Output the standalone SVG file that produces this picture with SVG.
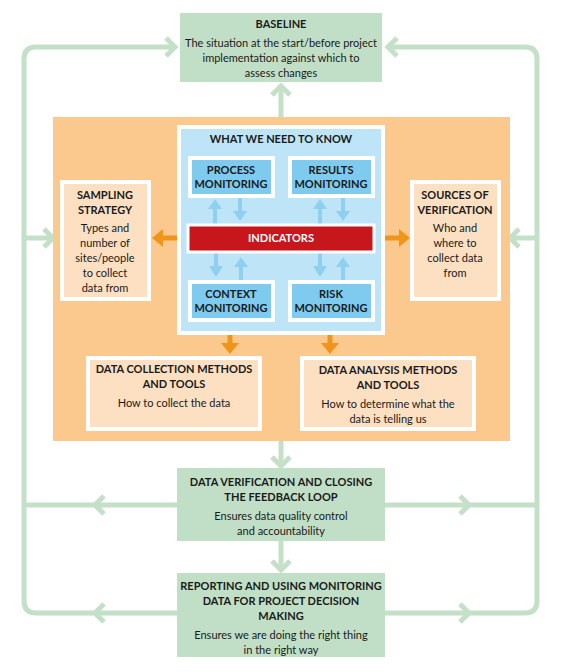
<svg xmlns="http://www.w3.org/2000/svg" width="563" height="672" viewBox="0 0 563 672">
<style>
.loop{fill:none;stroke:#c4e0c8;stroke-width:5;stroke-linejoin:round}
.chev{fill:none;stroke:#c4e0c8;stroke-width:5;stroke-linecap:butt;stroke-linejoin:miter}
.gbox{fill:#c1dfc6}
.t{font-family:Lato,"Liberation Sans",sans-serif;font-size:11px;fill:#1a1a1a;text-anchor:middle}
.b{font-weight:bold}
.w{fill:#ffffff}
.pbox{fill:#fde0c2;stroke:#ffffff;stroke-width:4}
.bbox{fill:#7ecbef;stroke:#ffffff;stroke-width:4}
.barrow{fill:#8fd0f1}
.oarrow{fill:#f0951c}
</style>
<rect x="0" y="0" width="563" height="672" fill="#ffffff"/>
<g id="connectors">
  <!-- left loop -->
  <path class="loop" d="M177,613 H36 Q24,613 24,601 V59 Q24,47 36,47 H174"/>
  <path class="loop" d="M177,505 H24"/>
  <path class="loop" d="M24,238 H50"/>
  <!-- right loop -->
  <path class="loop" d="M385,613 H525 Q537,613 537,601 V59 Q537,47 525,47 H389"/>
  <path class="loop" d="M385,505 H537"/>
  <path class="loop" d="M537,238 H512"/>
  <!-- chevrons on loop -->
  <path class="chev" d="M166,38 L175,47 L166,56"/>
  <path class="chev" d="M397,38 L388,47 L397,56"/>
  <path class="chev" d="M44,229 L53,238 L44,247"/>
  <path class="chev" d="M519,229 L510,238 L519,247"/>
  <path class="chev" d="M104,496 L95,505 L104,514"/>
  <path class="chev" d="M104,604 L95,613 L104,622"/>
  <path class="chev" d="M460,496 L469,505 L460,514"/>
  <path class="chev" d="M460,604 L469,613 L460,622"/>
  <!-- vertical green arrows -->
  <path class="loop" d="M281,117 V86"/>
  <path class="chev" d="M272,95 L281,86 L290,95"/>
  <path class="loop" d="M281,441 V466"/>
  <path class="chev" d="M272,457 L281,466 L290,457"/>
  <path class="loop" d="M281,541 V570"/>
  <path class="chev" d="M272,561 L281,570 L290,561"/>
</g>
<g id="baseline">
  <rect class="gbox" x="180" y="13" width="202" height="69"/>
  <text class="t b" x="281" y="28">BASELINE</text>
  <text class="t" x="281" y="47">The situation at the start/before project</text>
  <text class="t" x="281" y="62">implementation against which to</text>
  <text class="t" x="281" y="77">assess changes</text>
</g>
<g id="orange-area">
  <rect x="53" y="117" width="457" height="324" fill="#fbc98d"/>
</g>
<g id="what-we-need">
  <rect x="179" y="127" width="204" height="206" fill="#bee4f7" stroke="#ffffff" stroke-width="4"/>
  <text class="t b" x="281" y="143">WHAT WE NEED TO KNOW</text>
</g>
<g id="orange-arrows">
  <rect class="oarrow" x="161" y="235.5" width="16" height="5"/>
  <path class="oarrow" d="M152,238 L163,229 L163,247 Z"/>
  <rect class="oarrow" x="385" y="235.5" width="15" height="5"/>
  <path class="oarrow" d="M410,238 L399,229 L399,247 Z"/>
  <rect class="oarrow" x="227.5" y="335" width="5" height="10"/>
  <path class="oarrow" d="M230,354 L221,343 L239,343 Z"/>
  <rect class="oarrow" x="327.5" y="335" width="5" height="10"/>
  <path class="oarrow" d="M330,354 L321,343 L339,343 Z"/>
</g>
<g id="blue-arrows">
  <!-- top left pair -->
  <rect class="barrow" x="213" y="207" width="4" height="17"/>
  <path class="barrow" d="M215,199 L208,209 L222,209 Z"/>
  <rect class="barrow" x="238" y="197" width="4" height="16"/>
  <path class="barrow" d="M240,221 L233,211 L247,211 Z"/>
  <!-- top right pair -->
  <rect class="barrow" x="318" y="207" width="4" height="17"/>
  <path class="barrow" d="M320,199 L313,209 L327,209 Z"/>
  <rect class="barrow" x="341" y="197" width="4" height="16"/>
  <path class="barrow" d="M343,221 L336,211 L350,211 Z"/>
  <!-- bottom left pair -->
  <rect class="barrow" x="214" y="252" width="4" height="16"/>
  <path class="barrow" d="M216,277 L209,266 L223,266 Z"/>
  <rect class="barrow" x="239" y="265" width="4" height="16"/>
  <path class="barrow" d="M241,257 L234,267 L248,267 Z"/>
  <!-- bottom right pair -->
  <rect class="barrow" x="318" y="252" width="4" height="16"/>
  <path class="barrow" d="M320,277 L313,266 L327,266 Z"/>
  <rect class="barrow" x="341" y="265" width="4" height="16"/>
  <path class="barrow" d="M343,257 L336,267 L350,267 Z"/>
</g>
<g id="process">
  <rect class="bbox" x="190" y="158" width="83" height="38"/>
  <text class="t b" x="231" y="174">PROCESS</text>
  <text class="t b" x="231" y="188">MONITORING</text>
</g>
<g id="results">
  <rect class="bbox" x="290" y="158" width="83" height="38"/>
  <text class="t b" x="331" y="174">RESULTS</text>
  <text class="t b" x="331" y="188">MONITORING</text>
</g>
<g id="indicators">
  <rect x="188" y="225" width="186" height="27" fill="#c8161d" stroke="#ffffff" stroke-width="3"/>
  <text class="t b w" x="281" y="242">INDICATORS</text>
</g>
<g id="context">
  <rect class="bbox" x="190" y="282" width="83" height="38"/>
  <text class="t b" x="231" y="298">CONTEXT</text>
  <text class="t b" x="231" y="312">MONITORING</text>
</g>
<g id="risk">
  <rect class="bbox" x="290" y="282" width="83" height="38"/>
  <text class="t b" x="331" y="298">RISK</text>
  <text class="t b" x="331" y="312">MONITORING</text>
</g>
<g id="sampling">
  <rect class="pbox" x="62" y="182" width="87" height="117"/>
  <text class="t b" x="105" y="199">SAMPLING</text>
  <text class="t b" x="105" y="214">STRATEGY</text>
  <text class="t" x="105" y="232">Types and</text>
  <text class="t" x="105" y="247">number of</text>
  <text class="t" x="105" y="262">sites/people</text>
  <text class="t" x="105" y="277">to collect</text>
  <text class="t" x="105" y="292">data from</text>
</g>
<g id="sources">
  <rect class="pbox" x="412" y="182" width="87" height="117"/>
  <text class="t b" x="455" y="199">SOURCES OF</text>
  <text class="t b" x="455" y="214">VERIFICATION</text>
  <text class="t" x="455" y="232">Who and</text>
  <text class="t" x="455" y="247">where to</text>
  <text class="t" x="455" y="262">collect data</text>
  <text class="t" x="455" y="277">from</text>
</g>
<g id="data-collection">
  <rect class="pbox" x="88" y="358" width="172" height="71"/>
  <text class="t b" x="174" y="373">DATA COLLECTION METHODS</text>
  <text class="t b" x="174" y="388">AND TOOLS</text>
  <text class="t" x="174" y="407">How to collect the data</text>
</g>
<g id="data-analysis">
  <rect class="pbox" x="302" y="358" width="172" height="71"/>
  <text class="t b" x="388" y="374">DATA ANALYSIS METHODS</text>
  <text class="t b" x="388" y="389">AND TOOLS</text>
  <text class="t" x="388" y="408">How to determine what the</text>
  <text class="t" x="388" y="423">data is telling us</text>
</g>
<g id="data-verification">
  <rect class="gbox" x="177" y="468" width="208" height="73"/>
  <text class="t b" x="281" y="486">DATA VERIFICATION AND CLOSING</text>
  <text class="t b" x="281" y="501">THE FEEDBACK LOOP</text>
  <text class="t" x="281" y="520">Ensures data quality control</text>
  <text class="t" x="281" y="535">and accountability</text>
</g>
<g id="reporting">
  <rect class="gbox" x="177" y="573" width="208" height="84"/>
  <text class="t b" x="281" y="590">REPORTING AND USING MONITORING</text>
  <text class="t b" x="281" y="605">DATA FOR PROJECT DECISION</text>
  <text class="t b" x="281" y="620">MAKING</text>
  <text class="t" x="281" y="639">Ensures we are doing the right thing</text>
  <text class="t" x="281" y="654">in the right way</text>
</g>
</svg>
